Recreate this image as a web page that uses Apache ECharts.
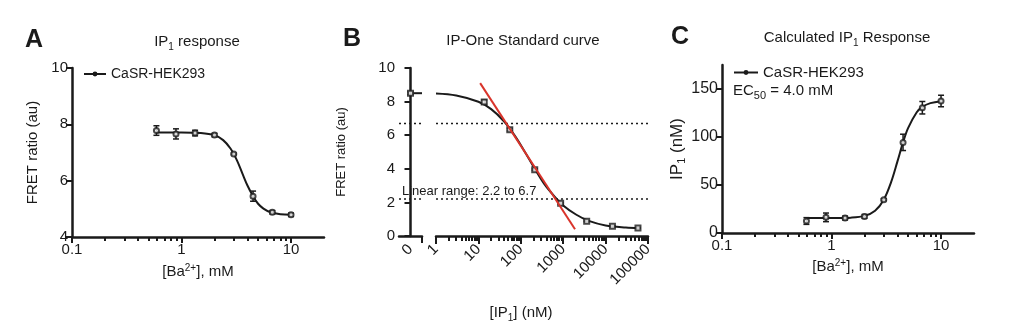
<!DOCTYPE html>
<html><head><meta charset="utf-8">
<script src="https://cdn.jsdelivr.net/npm/echarts@6/dist/echarts.min.js"></script>
<style>html,body{margin:0;padding:0;background:#fff}#c{width:1011px;height:334px}</style>
</head><body><div id="c"></div>
<script>
const FONT = '"Liberation Sans", Arial, Helvetica, sans-serif';
const INK = '#1a1a1a';
const RED = '#d9342b';

// ---- Panel A: FRET ratio vs [Ba2+] ----
const baConc = [0.59, 0.89, 1.33, 2, 3, 4.5, 6.75, 10];
const fretA = [7.78, 7.66, 7.69, 7.62, 6.95, 5.45, 4.88, 4.79];
const fretAErr = [0.17, 0.18, 0.10, 0.06, 0.03, 0.18, 0.06, 0.06];
const fitAx = [0.59, 1, 1.5, 2, 2.4, 2.8, 3.2, 3.6, 4, 4.5, 5, 5.6, 6.5, 8, 10];
const fitAy = [7.71, 7.71, 7.69, 7.61, 7.44, 7.14, 6.73, 6.25, 5.83, 5.45, 5.18, 5.01, 4.88, 4.81, 4.79];
const yTicksA = [4, 6, 8, 10];

// ---- Panel B: IP-One standard curve ----
const ipZeroFret = 8.5;
const ipZeroErr = 0.08;
const ipConc = [13.7, 55, 213, 870, 3580, 14500, 58000];
const fretB = [7.97, 6.33, 3.95, 1.95, 0.88, 0.58, 0.48];
const fretBErr = [0.12, 0.08, 0.05, 0.05, 0.03, 0.03, 0.03];
const fitBx = [1, 3, 10, 20, 40, 70, 120, 200, 350, 600, 1000, 2000, 4000, 10000, 30000, 60000];
const fitBy = [8.48, 8.36, 7.99, 7.55, 6.83, 6.02, 5.08, 4.13, 3.13, 2.4, 1.82, 1.28, 0.9, 0.63, 0.51, 0.48];
const fitBZeroX = [0.25, 1];
const fitBZeroY = [8.5, 8.5];
const linearX = [11, 1900];
const linearY = [9.1, 0.4];
const rangeLines = [2.2, 6.7];
const yTicksB = [0, 2, 4, 6, 8, 10];

// ---- Panel C: calculated IP1 ----
const ip1 = [12.5, 16.3, 15.6, 17.3, 34.7, 94.4, 130.5, 137.5];
const ip1Err = [3.5, 4.5, 2, 2, 1, 8.5, 6.5, 6];
const fitCx = [0.59, 1, 1.5, 2, 2.5, 3, 3.5, 4, 4.5, 5, 6, 6.75, 8, 10];
const fitCy = [15.5, 15.6, 16.0, 17.8, 23.2, 34.7, 53, 74.6, 94.4, 109.2, 125.8, 131.4, 135.3, 137.3];
const yTicksC = [0, 50, 100, 150];

// ---- tick positions ----
const logMajorBa = [0.1, 1, 10];
const logMinorBa = [0.2, 0.3, 0.4, 0.5, 0.6, 0.7, 0.8, 0.9, 2, 3, 4, 5, 6, 7, 8, 9];
const logMajorIP = [1, 10, 100, 1000, 10000, 100000];
const logMinorIP = [2, 3, 4, 5, 6, 7, 8, 9, 20, 30, 40, 50, 60, 70, 80, 90,
  200, 300, 400, 500, 600, 700, 800, 900, 2000, 3000, 4000, 5000, 6000, 7000, 8000, 9000,
  20000, 30000, 40000, 50000, 60000, 70000, 80000, 90000];

const zip = (a, b) => a.map((v, i) => [v, b[i]]);
const plain = (v) => String(Math.round(v * 1000) / 1000);

const txt = { color: INK, fontFamily: FONT };
const richSub = (fs) => ({ s: { fontSize: fs, fontFamily: FONT, color: INK, padding: [10, 0, 0, 0], verticalAlign: 'bottom' } });
const richSup = (fs) => ({ p: { fontSize: fs, fontFamily: FONT, color: INK, padding: [0, 0, 8, 0], verticalAlign: 'top' } });

function majorX(grid, type, min, max, ticks, extra) {
  return Object.assign({
    type, gridIndex: grid, min, max, logBase: 10, position: 'bottom',
    axisLine: { show: true, lineStyle: { color: INK, width: 2.5 } },
    axisTick: { show: true, customValues: ticks, length: 6, lineStyle: { color: INK, width: 2 } },
    axisLabel: { customValues: ticks, ...txt, fontSize: 15, margin: 5, formatter: plain },
    splitLine: { show: false }
  }, extra || {});
}
function minorX(grid, min, max, ticks, len) {
  return {
    type: 'log', gridIndex: grid, min, max, logBase: 10, position: 'bottom', offset: 0,
    axisLine: { show: false },
    axisTick: { show: true, customValues: ticks, length: len, lineStyle: { color: INK, width: 2 } },
    axisLabel: { show: false }, splitLine: { show: false }
  };
}
function yAx(grid, min, max, ticks, extra) {
  return Object.assign({
    type: 'value', gridIndex: grid, min, max,
    axisLine: { show: true, lineStyle: { color: INK, width: 2.5 } },
    axisTick: { show: true, customValues: ticks, length: 6, lineStyle: { color: INK, width: 2 } },
    axisLabel: { customValues: ticks, ...txt, fontSize: 15, margin: 4 },
    splitLine: { show: false }
  }, extra || {});
}

function errorSeries(xi, yi, xs, ys, es) {
  return {
    type: 'custom', xAxisIndex: xi, yAxisIndex: yi, silent: true, z: 4,
    encode: { x: 0, y: [1, 2] },
    data: xs.map((v, i) => [v, ys[i] - es[i], ys[i] + es[i]]),
    renderItem(params, api) {
      const lo = api.coord([api.value(0), api.value(1)]);
      const hi = api.coord([api.value(0), api.value(2)]);
      const w = 3, st = { stroke: INK, lineWidth: 1.5 };
      return { type: 'group', children: [
        { type: 'line', shape: { x1: lo[0], y1: lo[1], x2: hi[0], y2: hi[1] }, style: st },
        { type: 'line', shape: { x1: lo[0] - w, y1: lo[1], x2: lo[0] + w, y2: lo[1] }, style: st },
        { type: 'line', shape: { x1: hi[0] - w, y1: hi[1], x2: hi[0] + w, y2: hi[1] }, style: st }
      ] };
    }
  };
}
function curve(xi, yi, data, name) {
  return { type: 'line', name, xAxisIndex: xi, yAxisIndex: yi, data, smooth: 0.35,
    symbol: 'circle', symbolSize: 5, showSymbol: false, silent: true, z: 2,
    itemStyle: { color: INK }, lineStyle: { color: INK, width: 2 } };
}
function points(xi, yi, data, sym) {
  return { type: 'scatter', xAxisIndex: xi, yAxisIndex: yi, data, symbol: sym, symbolSize: 5, silent: true, z: 5,
    itemStyle: { color: INK, borderColor: INK, borderWidth: 1.3 } };
}
function dotted(xi, yi, data, clip) {
  return { type: 'line', xAxisIndex: xi, yAxisIndex: yi, data, showSymbol: false, silent: true, clip, z: 1,
    lineStyle: { color: INK, width: 1.5, type: [2, 3] } };
}

const option = {
  animation: false,
  backgroundColor: '#fff',
  textStyle: { fontFamily: FONT, color: INK },
  grid: [
    { left: 72, top: 68, width: 252, height: 169 },
    { left: 399, top: 68, width: 23, height: 168 },
    { left: 436, top: 68, width: 212, height: 168 },
    { left: 722, top: 65, width: 252, height: 168 }
  ],
  xAxis: [
    majorX(0, 'log', 0.1, 20, logMajorBa, { name: '[Ba{p|2+}], mM', nameLocation: 'middle', nameGap: 26,
      nameTextStyle: { ...txt, fontSize: 15, rich: richSup(10) } }),
    minorX(0, 0.1, 20, logMinorBa, 4),
    majorX(1, 'value', -1, 1, [1], { axisTick: { show: true, customValues: [1], length: 7, lineStyle: { color: INK, width: 2 } },
      axisLabel: { customValues: [0], ...txt, fontSize: 15, rotate: 45, margin: 11, formatter: plain } }),
    majorX(2, 'log', 1, 100000, logMajorIP, { axisTick: { show: true, customValues: logMajorIP, length: 8, lineStyle: { color: INK, width: 2 } },
      axisLabel: { customValues: logMajorIP, ...txt, fontSize: 15, rotate: 45, margin: 11, formatter: plain } }),
    minorX(2, 1, 100000, logMinorIP, 5),
    majorX(3, 'log', 0.1, 20, logMajorBa, { name: '[Ba{p|2+}], mM', nameLocation: 'middle', nameGap: 25,
      nameTextStyle: { ...txt, fontSize: 15, rich: richSup(10) } }),
    minorX(3, 0.1, 20, logMinorBa, 4)
  ],
  yAxis: [
    yAx(0, 4, 10, yTicksA, { name: 'FRET ratio (au)', nameLocation: 'middle', nameGap: 32, nameRotate: 90,
      nameTextStyle: { ...txt, fontSize: 15 } }),
    yAx(1, 0, 10, yTicksB, { name: 'FRET ratio (au)', nameLocation: 'middle', nameGap: 51, nameRotate: 90,
      nameTextStyle: { ...txt, fontSize: 13 } }),
    { type: 'value', gridIndex: 2, min: 0, max: 10, show: false },
    yAx(3, 0, 175, yTicksC, { name: 'IP{s|1} (nM)', nameLocation: 'middle', nameGap: 34, nameRotate: 90,
      axisLabel: { customValues: yTicksC, ...txt, fontSize: 16, margin: 4 },
      nameTextStyle: { ...txt, fontSize: 17, rich: richSub(11) } })
  ],
  legend: [
    { left: 78, top: 62, data: ['CaSR-HEK293'], itemWidth: 22, itemHeight: 6, itemGap: 4, selectedMode: false,
      textStyle: { ...txt, fontSize: 14 } },
    { left: 728, top: 60, data: ['CaSR-HEK293'], itemWidth: 24, itemHeight: 6, itemGap: 4, selectedMode: false,
      textStyle: { ...txt, fontSize: 15 } }
  ],
  series: [
    // A
    curve(0, 0, zip(fitAx, fitAy), 'CaSR-HEK293'),
    errorSeries(0, 0, baConc, fretA, fretAErr),
    points(0, 0, zip(baConc, fretA), 'emptyCircle'),
    // B, zero segment
    dotted(2, 1, [[-1, rangeLines[0]], [2.4, rangeLines[0]]], false),
    dotted(2, 1, [[-1, rangeLines[1]], [2.4, rangeLines[1]]], false),
    { type: 'line', xAxisIndex: 2, yAxisIndex: 1, data: zip(fitBZeroX, fitBZeroY), showSymbol: false, silent: true,
      lineStyle: { color: INK, width: 2 } },
    errorSeries(2, 1, [0], [ipZeroFret], [ipZeroErr]),
    points(2, 1, [[0, ipZeroFret]], 'emptyRect'),
    // B, log segment
    dotted(3, 2, [[1, rangeLines[0]], [100000, rangeLines[0]]], true),
    dotted(3, 2, [[1, rangeLines[1]], [100000, rangeLines[1]]], true),
    { type: 'line', xAxisIndex: 3, yAxisIndex: 2, data: zip(fitBx, fitBy), smooth: 0.35, showSymbol: false, silent: true, z: 2,
      lineStyle: { color: INK, width: 2 } },
    errorSeries(3, 2, ipConc, fretB, fretBErr),
    points(3, 2, zip(ipConc, fretB), 'emptyRect'),
    { type: 'line', xAxisIndex: 3, yAxisIndex: 2, data: zip(linearX, linearY), showSymbol: false, silent: true, z: 6,
      lineStyle: { color: RED, width: 2 } },
    // C
    curve(5, 3, zip(fitCx, fitCy), 'CaSR-HEK293'),
    errorSeries(5, 3, baConc, ip1, ip1Err),
    points(5, 3, zip(baConc, ip1), 'emptyCircle')
  ],
  graphic: [
    { type: 'text', x: 34, y: 40, style: { text: 'A', fontSize: 25, fontWeight: 'bold', fontFamily: FONT, fill: INK, align: 'center', verticalAlign: 'middle' } },
    { type: 'text', x: 352, y: 39, style: { text: 'B', fontSize: 25, fontWeight: 'bold', fontFamily: FONT, fill: INK, align: 'center', verticalAlign: 'middle' } },
    { type: 'text', x: 680, y: 37, style: { text: 'C', fontSize: 25, fontWeight: 'bold', fontFamily: FONT, fill: INK, align: 'center', verticalAlign: 'middle' } },
    { type: 'text', x: 197, y: 42, style: { text: 'IP{s|1} response', fontSize: 15, fontFamily: FONT, fill: INK, align: 'center', verticalAlign: 'middle', rich: richSub(10) } },
    { type: 'text', x: 523, y: 41, style: { text: 'IP-One Standard curve', fontSize: 15, fontFamily: FONT, fill: INK, align: 'center', verticalAlign: 'middle' } },
    { type: 'text', x: 847, y: 38, style: { text: 'Calculated IP{s|1} Response', fontSize: 15, fontFamily: FONT, fill: INK, align: 'center', verticalAlign: 'middle', rich: richSub(10) } },
    { type: 'text', x: 521, y: 313, style: { text: '[IP{s|1}] (nM)', fontSize: 15, fontFamily: FONT, fill: INK, align: 'center', verticalAlign: 'middle', rich: richSub(10) } },
    { type: 'text', x: 402, y: 191, style: { text: 'Linear range: 2.2 to 6.7', fontSize: 13, fontFamily: FONT, fill: INK, align: 'left', verticalAlign: 'middle' } },
    { type: 'text', x: 733, y: 91, style: { text: 'EC{s|50} = 4.0 mM', fontSize: 15, fontFamily: FONT, fill: INK, align: 'left', verticalAlign: 'middle', rich: richSub(11) } }
  ]
};
echarts.init(document.getElementById('c'), null, { renderer: 'canvas' }).setOption(option);
</script></body></html>
